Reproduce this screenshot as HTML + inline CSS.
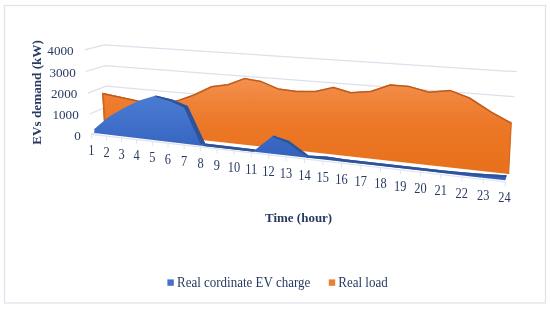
<!DOCTYPE html>
<html><head><meta charset="utf-8"><title>chart</title>
<style>
html,body{margin:0;padding:0;background:#fff;}
body{width:550px;height:310px;overflow:hidden;}
svg{display:block;}
text{font-family:"Liberation Serif","Times New Roman",serif;fill:#283a60;}
</style></head><body>
<svg width="550" height="310" viewBox="0 0 550 310">
<defs>
<linearGradient id="og" gradientUnits="userSpaceOnUse" x1="0" y1="78" x2="0" y2="176">
<stop offset="0" stop-color="#f4914f"/><stop offset="0.25" stop-color="#ef8238"/><stop offset="0.5" stop-color="#ec7726"/><stop offset="1" stop-color="#e8701a"/></linearGradient>
<linearGradient id="bg" gradientUnits="userSpaceOnUse" x1="0" y1="95" x2="0" y2="160">
<stop offset="0" stop-color="#4b7cd2"/><stop offset="1" stop-color="#3260bd"/></linearGradient>
<linearGradient id="og2" gradientUnits="userSpaceOnUse" x1="0" y1="92" x2="0" y2="135">
<stop offset="0" stop-color="#ef7f33"/><stop offset="1" stop-color="#ea7420"/></linearGradient>
</defs>
<rect x="0" y="0" width="550" height="310" fill="#fff"/>
<rect x="4.5" y="5.5" width="541" height="297.5" fill="#fff" stroke="#dfe2ec" stroke-width="1.2"/>

<polyline points="84.5,49.9 104.3,44.8 516.8,71.7" fill="none" stroke="#dde0eb" stroke-width="1.25"/>
<polyline points="85.8,71.5 105.2,65.7 514.5,96.7" fill="none" stroke="#dde0eb" stroke-width="1.25"/>
<polyline points="88.0,93.2 106.0,86.2 512.3,121.6" fill="none" stroke="#dde0eb" stroke-width="1.25"/>
<polyline points="89.6,114.0 106.9,106.8 510.2,146.4" fill="none" stroke="#dde0eb" stroke-width="1.25"/>
<polyline points="91.2,134.4 107.8,127.4 508.2,171.2" fill="none" stroke="#dde0eb" stroke-width="1.25"/>
<polygon points="102.2,92.7 117.5,96.0 132.8,99.4 148.1,103.0 163.4,104.0 178.8,99.7 194.1,94.3 211.5,86.1 228.0,84.0 244.4,77.9 261.2,80.9 278.0,88.2 296.6,90.7 315.4,90.9 333.4,86.8 350.8,92.1 370.8,90.8 390.2,84.3 409.5,85.9 429.1,91.5 450.4,89.9 469.4,97.3 491.3,111.5 511.5,122.7 508.4,174.0 104.5,129.2" fill="url(#og)"/>
<polygon points="102.2,92.7 117.5,96.0 132.8,99.4 148.1,103.0 163.4,104.0 178.8,99.7 178.8,137.5 104.5,129.2" fill="url(#og2)"/>
<polyline points="102.2,93.4 117.5,96.7 132.8,100.1 148.1,103.7 163.4,104.7 178.8,100.4 194.1,95.0 211.5,86.8 228.0,84.7 244.4,78.6 261.2,81.6 278.0,88.9 296.6,91.4 315.4,91.6 333.4,87.5 350.8,92.8 370.8,91.5 390.2,85.0 409.5,86.6 429.1,92.2 450.4,90.6 469.4,98.0 491.3,112.2 511.5,123.4" fill="none" stroke="#bd5c1c" stroke-width="1.5" stroke-linejoin="round"/>
<line x1="102.9" y1="93.2" x2="105.2" y2="129.4" stroke="#d4651b" stroke-width="1.7"/>
<line x1="511.2" y1="123" x2="508.6" y2="174.0" stroke="#d5661a" stroke-width="1.2"/>
<polygon points="94.3,129.0 108.5,117.0 123.0,108.5 138.5,100.7 155.8,95.6 172.3,99.5 187.7,105.9 205.2,143.6 255.6,149.5 273.2,135.6 289.2,141.0 308.6,155.6 326.8,156.4 345.0,159.3 442.0,170.2 463.0,172.3 485.0,173.9 506.6,175.3 505.4,180.3 475.0,177.0 430.0,171.6 210.0,146.8 94.3,133.0" fill="url(#bg)"/>
<polygon points="155.8,95.6 172.3,99.5 187.7,105.9 205.2,143.6 200.7,144.6 184.2,107.7 170.8,101.6 155.8,97.1" fill="#2f5298"/>
<polygon points="273.2,135.6 289.2,141.0 308.6,155.6 305.4,156.3 287.9,143.0 273.2,137.3" fill="#2f5298"/>
<polygon points="205.2,143.6 255.6,149.5 253.5,151.7 203.0,146.0" fill="#2f5298"/>
<polygon points="308.6,155.6 326.8,156.4 345.0,159.3 442.0,170.2 463.0,172.3 485.0,173.9 506.6,175.3 506.2,177.6 485.0,176.2 463.0,174.7 442.0,172.7 345.0,161.7 326.8,159.2 306.0,157.6" fill="#2f5298"/>
<line x1="91.2" y1="134.4" x2="505.5" y2="182" stroke="#e1e3ec" stroke-width="1.1"/>
<line x1="91.4" y1="134.4" x2="91.4" y2="138.6" stroke="#e1e3ec" stroke-width="1"/>
<line x1="106.6" y1="136.2" x2="106.6" y2="140.4" stroke="#e1e3ec" stroke-width="1"/>
<line x1="121.6" y1="137.9" x2="121.6" y2="142.1" stroke="#e1e3ec" stroke-width="1"/>
<line x1="136.6" y1="139.6" x2="136.6" y2="143.8" stroke="#e1e3ec" stroke-width="1"/>
<line x1="152.4" y1="141.4" x2="152.4" y2="145.6" stroke="#e1e3ec" stroke-width="1"/>
<line x1="168.0" y1="143.2" x2="168.0" y2="147.4" stroke="#e1e3ec" stroke-width="1"/>
<line x1="184.2" y1="145.1" x2="184.2" y2="149.3" stroke="#e1e3ec" stroke-width="1"/>
<line x1="200.6" y1="147.0" x2="200.6" y2="151.2" stroke="#e1e3ec" stroke-width="1"/>
<line x1="217.0" y1="148.9" x2="217.0" y2="153.1" stroke="#e1e3ec" stroke-width="1"/>
<line x1="234.0" y1="150.8" x2="234.0" y2="155.0" stroke="#e1e3ec" stroke-width="1"/>
<line x1="251.4" y1="152.8" x2="251.4" y2="157.0" stroke="#e1e3ec" stroke-width="1"/>
<line x1="268.6" y1="154.8" x2="268.6" y2="159.0" stroke="#e1e3ec" stroke-width="1"/>
<line x1="286.0" y1="156.8" x2="286.0" y2="161.0" stroke="#e1e3ec" stroke-width="1"/>
<line x1="304.5" y1="158.9" x2="304.5" y2="163.1" stroke="#e1e3ec" stroke-width="1"/>
<line x1="322.8" y1="161.0" x2="322.8" y2="165.2" stroke="#e1e3ec" stroke-width="1"/>
<line x1="341.5" y1="163.2" x2="341.5" y2="167.4" stroke="#e1e3ec" stroke-width="1"/>
<line x1="360.8" y1="165.4" x2="360.8" y2="169.6" stroke="#e1e3ec" stroke-width="1"/>
<line x1="380.5" y1="167.6" x2="380.5" y2="171.8" stroke="#e1e3ec" stroke-width="1"/>
<line x1="400.4" y1="169.9" x2="400.4" y2="174.1" stroke="#e1e3ec" stroke-width="1"/>
<line x1="420.6" y1="172.2" x2="420.6" y2="176.4" stroke="#e1e3ec" stroke-width="1"/>
<line x1="440.8" y1="174.6" x2="440.8" y2="178.8" stroke="#e1e3ec" stroke-width="1"/>
<line x1="461.9" y1="177.0" x2="461.9" y2="181.2" stroke="#e1e3ec" stroke-width="1"/>
<line x1="483.3" y1="179.5" x2="483.3" y2="183.7" stroke="#e1e3ec" stroke-width="1"/>
<line x1="505.3" y1="182.0" x2="505.3" y2="186.2" stroke="#e1e3ec" stroke-width="1"/>
<text transform="translate(91.30,155.22) scale(0.930,1.050)" font-size="13.33" text-anchor="middle">1</text>
<text transform="translate(106.50,156.97) scale(0.930,1.050)" font-size="13.33" text-anchor="middle">2</text>
<text transform="translate(121.50,158.69) scale(0.930,1.050)" font-size="13.33" text-anchor="middle">3</text>
<text transform="translate(136.50,160.42) scale(0.930,1.050)" font-size="13.33" text-anchor="middle">4</text>
<text transform="translate(152.30,162.23) scale(0.930,1.050)" font-size="13.33" text-anchor="middle">5</text>
<text transform="translate(167.90,164.02) scale(0.930,1.050)" font-size="13.33" text-anchor="middle">6</text>
<text transform="translate(184.10,165.89) scale(0.930,1.050)" font-size="13.33" text-anchor="middle">7</text>
<text transform="translate(200.50,167.77) scale(0.930,1.050)" font-size="13.33" text-anchor="middle">8</text>
<text transform="translate(216.90,169.65) scale(0.930,1.050)" font-size="13.33" text-anchor="middle">9</text>
<text transform="translate(233.90,171.61) scale(0.930,1.050)" font-size="13.33" text-anchor="middle">10</text>
<text transform="translate(251.30,173.61) scale(0.930,1.050)" font-size="13.33" text-anchor="middle">11</text>
<text transform="translate(268.50,175.58) scale(0.930,1.050)" font-size="13.33" text-anchor="middle">12</text>
<text transform="translate(285.90,177.58) scale(0.930,1.050)" font-size="13.33" text-anchor="middle">13</text>
<text transform="translate(304.40,179.71) scale(0.930,1.050)" font-size="13.33" text-anchor="middle">14</text>
<text transform="translate(322.70,181.81) scale(0.930,1.050)" font-size="13.33" text-anchor="middle">15</text>
<text transform="translate(341.40,183.96) scale(0.930,1.050)" font-size="13.33" text-anchor="middle">16</text>
<text transform="translate(360.70,186.18) scale(0.930,1.050)" font-size="13.33" text-anchor="middle">17</text>
<text transform="translate(380.40,188.44) scale(0.930,1.050)" font-size="13.33" text-anchor="middle">18</text>
<text transform="translate(400.30,190.73) scale(0.930,1.050)" font-size="13.33" text-anchor="middle">19</text>
<text transform="translate(420.50,193.05) scale(0.930,1.050)" font-size="13.33" text-anchor="middle">20</text>
<text transform="translate(440.70,195.37) scale(0.930,1.050)" font-size="13.33" text-anchor="middle">21</text>
<text transform="translate(461.80,197.79) scale(0.930,1.050)" font-size="13.33" text-anchor="middle">22</text>
<text transform="translate(483.20,200.25) scale(0.930,1.050)" font-size="13.33" text-anchor="middle">23</text>
<text transform="translate(504.50,202.38) scale(0.930,1.050)" font-size="13.33" text-anchor="middle">24</text>
<text transform="translate(73.60,54.90) scale(0.985,1.000)" font-size="13.33" text-anchor="end">4000</text>
<text transform="translate(75.70,76.60) scale(0.985,1.000)" font-size="13.33" text-anchor="end">3000</text>
<text transform="translate(77.30,97.70) scale(0.985,1.000)" font-size="13.33" text-anchor="end">2000</text>
<text transform="translate(78.70,118.90) scale(0.985,1.000)" font-size="13.33" text-anchor="end">1000</text>
<text transform="translate(80.90,139.60) scale(0.985,1.000)" font-size="13.33" text-anchor="end">0</text>
<text transform="translate(41.00,92.40) rotate(-90) scale(0.988,1.000)" font-size="13.33" text-anchor="middle" font-weight="bold">EVs demand (kW)</text>
<text transform="translate(298.60,221.80) scale(0.975,0.960)" font-size="13.33" text-anchor="middle" font-weight="bold">Time (hour)</text>
<rect x="167.4" y="279.4" width="6.4" height="6.4" fill="#4472c4"/>
<text transform="translate(177.00,286.50) scale(0.975,1.040)" font-size="13.33">Real cordinate EV charge</text>
<rect x="328.8" y="279.4" width="6.4" height="6.4" fill="#ed7d31"/>
<text transform="translate(338.30,286.50) scale(0.975,1.040)" font-size="13.33">Real load</text>
</svg></body></html>
